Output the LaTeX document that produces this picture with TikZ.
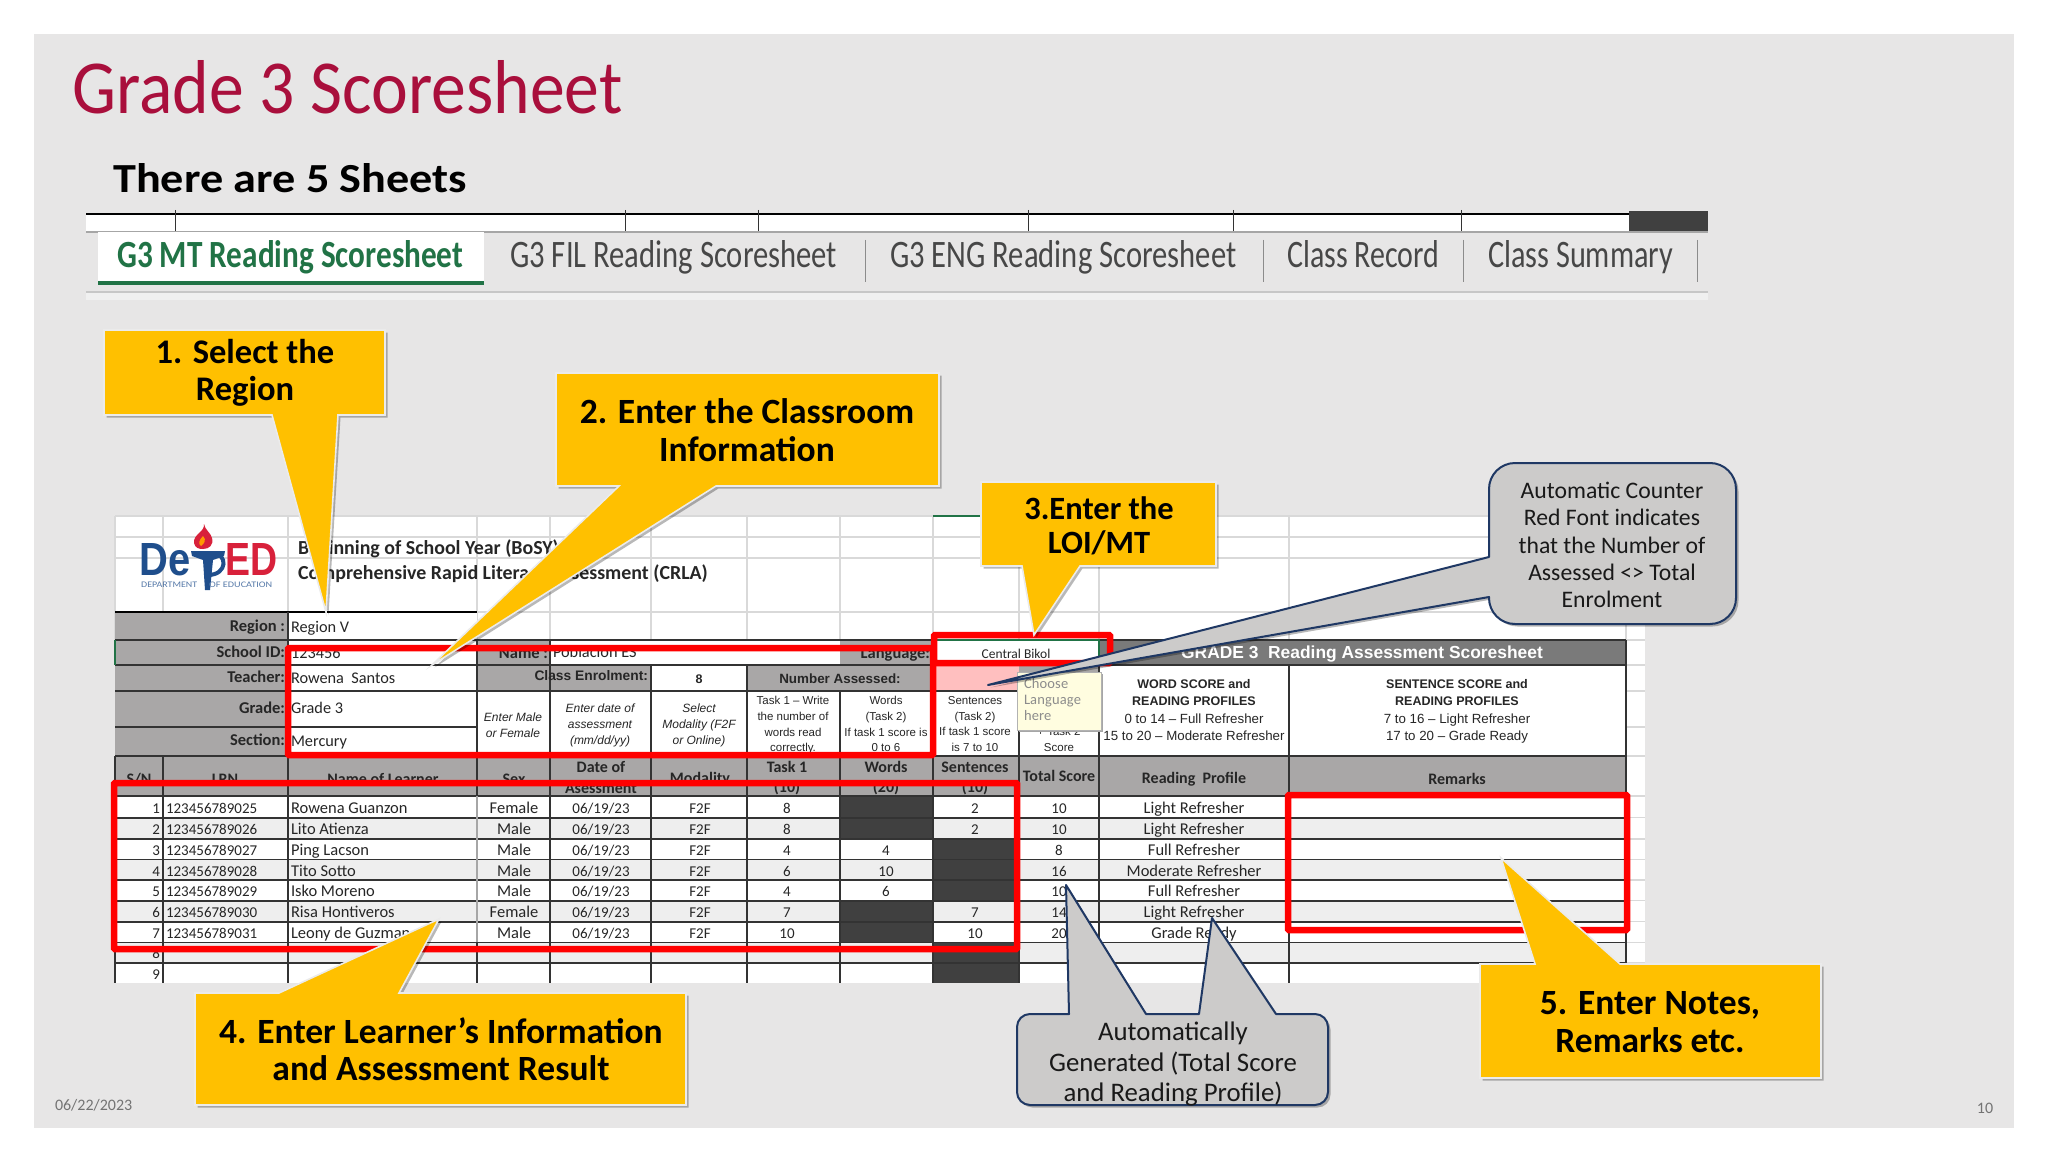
\documentclass[tikz,border=0pt]{standalone}
\usepackage{fontspec}
\usepackage{graphicx}
\setmainfont{Carlito}
\newfontfamily\ar{Liberation Sans}
\usetikzlibrary{shadows}
\definecolor{slide}{HTML}{E7E6E6}
\definecolor{hdr}{HTML}{A9A7A7}
\definecolor{darkc}{HTML}{404040}
\definecolor{zebra}{HTML}{EEEEEE}
\definecolor{gridl}{HTML}{D9D9D9}
\definecolor{gold}{HTML}{FFC000}
\definecolor{callg}{HTML}{CCCBCA}
\definecolor{navy}{HTML}{1F3864}
\definecolor{crimson}{HTML}{A90F3C}
\definecolor{tabgreen}{HTML}{217346}
\definecolor{depblue}{HTML}{1F4E8C}
\definecolor{depred}{HTML}{D8213B}
\newcommand\fs[2]{\fontsize{#1}{#2}\selectfont}
\tikzset{
  x=1pt,y=-1pt,
  txt/.style={inner sep=0pt,outer sep=0pt,align=center,text=black!85},
  lbl/.style={txt,anchor=mid east,yshift=-2.5pt,font=\fs{16.5}{18}\bfseries},
  val/.style={txt,anchor=mid west,yshift=-2.5pt,font=\fs{16.3}{18}},
  dat/.style={txt,anchor=base,font=\fs{16.5}{18}},
  num/.style={txt,anchor=base,font=\fs{15}{18}},
  hd/.style={txt,font=\fs{16}{18}\bfseries},
  note/.style={txt,font=\ar\fs{11.5}{15.6}},
  notei/.style={txt,font=\ar\itshape\fs{12}{16.2}},
  gridline/.style={draw=gridl,line width=1.2pt},
  cellline/.style={draw=black!80,line width=1.6pt},
  redbox/.style={draw=red,line width=6.5pt,rounded corners=1pt},
  goldcall/.style={fill=gold,draw=white!92!black,line width=1.6pt,line join=miter,
    drop shadow={shadow xshift=2.5pt,shadow yshift=-2.5pt,opacity=.28,fill=black}},
  greycall/.style={fill=callg,draw=navy,line width=2pt,line join=round,
    drop shadow={shadow xshift=2.5pt,shadow yshift=-2.5pt,opacity=.28,fill=black}},
  goldtext/.style={inner sep=0pt,align=center,text=black,font=\bfseries\fs{35.5}{37.5}},
  greytext/.style={inner sep=0pt,align=center,text=black!90,font=\fs{23.7}{27.3}},
  tabtext/.style={inner sep=0pt,anchor=base west,text=black!72},
}
\begin{document}
\begin{tikzpicture}
\useasboundingbox (0,0) rectangle (2048,1161);
\fill[white] (0,0) rectangle (2048,1161);
\fill[slide] (34,34) rectangle (2014,1128);

% title
\node[inner sep=0pt,anchor=base west,text=crimson] (title) at (72,114) {\resizebox{550pt}{53pt}{Grade 3 Scoresheet}};
\node[inner sep=0pt,anchor=base west,text=black] (sub) at (113,193) {\resizebox{354pt}{29pt}{\bfseries There are 5 Sheets}};

% tab strip
\fill[white] (86,214) rectangle (1708,232);
\fill[darkc] (1629,211) rectangle (1708,232);
\draw[black,line width=2.6pt] (86,214) -- (1629,214);
\foreach \x in {175,625,758,1028,1233,1461} \draw[black!80,line width=1pt] (\x,210) -- (\x,232);
\draw[black!35,line width=2pt] (86,232) -- (1708,232);
\fill[white] (98,232) rectangle (484,285);
\fill[tabgreen] (98,281) rectangle (484,285);
\foreach \x in {865,1263,1463,1697} \draw[black!45,line width=1pt] (\x,240) -- (\x,282);
\draw[black!22,line width=2pt] (86,292) -- (1708,292);
\fill[black!6] (86,293) rectangle (1708,300);
\node[tabtext,text=tabgreen] (tab1) at (117,267) {\resizebox{346pt}{27pt}{\bfseries G3 MT Reading Scoresheet}};
\node[tabtext] (tab2) at (510,267) {\resizebox{327pt}{27pt}{G3 FIL Reading Scoresheet}};
\node[tabtext] (tab3) at (890,267) {\resizebox{346pt}{27pt}{G3 ENG Reading Scoresheet}};
\node[tabtext] (tab4) at (1287,267) {\resizebox{152pt}{27pt}{Class Record}};
\node[tabtext] (tab5) at (1488,267) {\resizebox{185pt}{27pt}{Class Summary}};

% sheet base and grid
\fill[white] (115,516) rectangle (1645,983);
\foreach \y in {537,558,612,640,665,691,727,756,796,817.7,839,859.3,880,900.7,921.7,942.3,962.7}
  \draw[gridline] (115,\y) -- (1645,\y);
\foreach \x in {163,288,477,550,651,747,840,933,1019,1099,1289,1626}
  \draw[gridline] (\x,516) -- (\x,640);
\draw[gridline] (115,516) -- (1645,516);
\draw[gridline] (115,516) -- (115,640);
\draw[tabgreen,line width=1.4pt] (933,516) -- (981,516);

% logo
\node[inner sep=0pt,anchor=base west,text=depblue] (logoa) at (139,575) {\resizebox{51pt}{32pt}{\ar\bfseries De}};
\node[inner sep=0pt,anchor=base west,text=depred] (logob) at (225,575) {\resizebox{52pt}{32pt}{\ar\bfseries ED}};
\fill[depblue] (191,551) -- (225,551) -- (224,556) -- (213,560) -- (210,590) -- (205,590) -- (203,560) -- (192,556) -- cycle;
\draw[depblue,line width=4pt] (212,553) .. controls (228,553) and (228,575) .. (208,575);
\fill[depred] (204,524) .. controls (205,532) and (193,534) .. (194,543) .. controls (195,548) and (199,549) .. (203,549)
  .. controls (209,549) and (214,545) .. (212,538) .. controls (211,533) and (205,530) .. (204,524) -- cycle;
\fill[gold!80!red] (203,536) .. controls (199,540) and (198,544) .. (201,546) .. controls (204,544) and (207,540) .. (203,536) -- cycle;
\node[inner sep=0pt,text=depblue!75,anchor=mid west] (logoc) at (141,585) {\resizebox{56pt}{5.5pt}{\rmfamily DEPARTMENT}};
\node[inner sep=0pt,text=depblue!75,anchor=mid west] (logod) at (209,585) {\resizebox{63pt}{5.5pt}{\rmfamily OF EDUCATION}};

\node[txt,anchor=mid west,font=\bfseries\fs{19.9}{22}] (boy) at (298,552.5) {Beginning of School Year (BoSY)};
\node[txt,anchor=mid west,font=\bfseries\fs{19.9}{22}] (crla) at (298,577.5) {Comprehensive Rapid Literacy Assessment (CRLA)};

% top form fills
\fill[hdr] (115,612) rectangle (288,756);
\fill[white] (288,612) rectangle (477,756);
\fill[hdr] (477,640) rectangle (550,665);
\fill[white] (550,640) rectangle (840,665);
\fill[hdr] (840,640) rectangle (933,665);
\fill[white] (933,640) rectangle (1099,665);
\fill[black!52] (1099,640) rectangle (1626,665);
\fill[hdr] (477,665) rectangle (651,691);
\fill[white] (651,665) rectangle (747,691);
\fill[hdr] (747,665) rectangle (933,691);
\fill[red!25!white] (933,665) rectangle (1019,691);
\fill[hdr] (1019,665) rectangle (1099,691);
\fill[white] (477,691) rectangle (1099,756);
\fill[white] (1099,665) rectangle (1626,756);
\fill[hdr] (115,756) rectangle (1626,796);

% data rows
\fill[white] (115,796) rectangle (1626,983);
\fill[zebra] (115,817.7) rectangle (1626,839);
\fill[zebra] (115,859.3) rectangle (1626,880);
\fill[zebra] (115,900.7) rectangle (1626,921.7);
\fill[zebra] (115,942.3) rectangle (1626,962.7);
\fill[darkc] (840,796) rectangle (933,839);
\fill[darkc] (840,900.7) rectangle (933,942.3);
\fill[darkc] (933,839) rectangle (1019,900.7);
\fill[darkc] (933,942.3) rectangle (1019,983);

% form lines
\draw[black,line width=2.6pt] (115,612) -- (477,612);
\draw[cellline] (115,640) -- (1626,640);
\draw[cellline] (115,665) -- (1626,665);
\draw[cellline] (115,691) -- (1099,691);
\draw[cellline] (115,727) -- (477,727);
\draw[cellline] (115,756) -- (1626,756);
\draw[cellline] (288,612) -- (288,756);
\foreach \x/\a in {477/640,550/640,651/665,747/665,840/691,933/640,1019/691,1099/640,1289/665,1626/640}
  \draw[cellline] (\x,\a) -- (\x,756);
\draw[tabgreen,line width=1.4pt] (933,640) rectangle (1099,665);
\draw[tabgreen,line width=1.4pt] (115,640) -- (115,665);

% data grid lines
\foreach \y in {796,817.7,839,859.3,880,900.7,921.7,942.3,962.7}
  \draw[cellline] (115,\y) -- (1626,\y);
\foreach \x in {163,288,550,651,747,840,933,1019,1099,1289,1626}
  \draw[cellline] (\x,756) -- (\x,983);
\draw[black!35,line width=1.4pt] (477,796) -- (477,942);
\draw[cellline] (477,756) -- (477,796);
\draw[cellline] (477,942) -- (477,983);
\draw[cellline] (115,756) -- (115,983);

% form text
\node[lbl] (r1) at (285,627) {Region :};
\node[lbl] (r2) at (285,653) {School ID:};
\node[lbl] (r3) at (285,678) {Teacher:};
\node[lbl] (r4) at (285,709) {Grade:};
\node[lbl] (r5) at (285,741) {Section:};
\node[val] (v1) at (291,628) {Region V};
\node[val] (v2) at (291,654) {123456};
\node[val] (v3) at (291,679) {Rowena\ \ Santos};
\node[val] (v4) at (291,709) {Grade 3};
\node[val] (v5) at (291,742) {Mercury};
\node[lbl] (n1) at (548,654) {Name :};
\node[val] (n2) at (553,653) {Población ES};
\node[lbl] (n3) at (930,654) {Language:};
\node[txt,font=\fs{13.5}{16}] (n4) at (1016,654) {Central Bikol};
\node[txt,text=white,font=\ar\bfseries\fs{17.4}{18}] (gr) at (1362,654) {GRADE 3\ \ Reading Assessment Scoresheet};
\node[lbl,font=\ar\bfseries\fs{13.8}{15}] (c1) at (648,676) {Class Enrolment:};
\node[hd,font=\ar\bfseries\fs{12.5}{15}] (c2) at (699,679) {8};
\node[hd,font=\ar\bfseries\fs{13.4}{15}] (c3) at (840,679) {Number Assessed:};

\node[notei] (i1) at (513,725.5) {Enter Male\\or Female};
\node[notei] (i2) at (600,725.5) {Enter date of\\assessment\\(mm/dd/yy)};
\node[notei] (i3) at (699,725.5) {Select\\Modality (F2F\\or Online)};
\node[note,anchor=north] (t1) at (793,696.5) {Task 1 – Write\\the number of\\words read\\correctly.};
\node[note,anchor=north] (t2) at (886,696.5) {Words\\(Task 2)\\If task 1 score is\\0 to 6};
\node[note,anchor=north] (t3) at (975,696.5) {Sentences\\(Task 2)\\If task 1 score\\is 7 to 10};
\node[note,anchor=north] (t4) at (1059,727.5) {+ Task 2\\Score};

\node[txt,anchor=north,font=\ar\fs{13.3}{17.3}] (w1) at (1194,679.5) {\fs{12.5}{17.3}\textbf{WORD SCORE and}\\\fs{12.5}{17.3}\textbf{READING PROFILES}\\0 to 14 – Full Refresher\\15 to 20 – Moderate Refresher};
\node[txt,anchor=north,font=\ar\fs{13.3}{17.3}] (w2) at (1457,679.5) {\fs{12.5}{17.3}\textbf{SENTENCE SCORE and}\\\fs{12.5}{17.3}\textbf{READING PROFILES}\\7 to 16 – Light Refresher\\17 to 20 – Grade Ready};

% header text
\foreach \x/\t/\n in {139/S\slash N/a,225/LRN/b,383/Name of Learner/c,514/Sex/d,700/Modality/e,1194/Reading\ \ Profile/f,1457/Remarks/g}
  \node[hd] (h\n) at (\x,779) {\t};
\node[hd] (hh1) at (601,767) {Date of};
\node[hd] (hh2) at (601,788) {Asessment};
\node[hd] (hh3) at (787,767) {Task 1};
\node[hd] (hh4) at (787,788) {(10)};
\node[hd] (hh5) at (886,767) {Words};
\node[hd] (hh6) at (886,788) {(20)};
\node[hd] (hh7) at (975,767) {Sentences};
\node[hd] (hh8) at (975,788) {(10)};
\node[hd] (hh9) at (1059,776) {Total Score};

% data rows text
\foreach \y/\s/\lrn/\name/\sex/\ta/\tb/\tc/\tot/\prof in {
 807/1/123456789025/Rowena Guanzon/Female/8//2/10/Light Refresher,
 828/2/123456789026/Lito Atienza/Male/8//2/10/Light Refresher,
 849/3/123456789027/Ping Lacson/Male/4/4//8/Full Refresher,
 870/4/123456789028/Tito Sotto/Male/6/10//16/Moderate Refresher,
 890.5/5/123456789029/Isko Moreno/Male/4/6//10/Full Refresher,
 911.5/6/123456789030/Risa Hontiveros/Female/7//7/14/Light Refresher,
 932/7/123456789031/Leony de Guzman/Male/10//10/20/Grade Ready}{
  \node[num,anchor=base east] (s\s) at (160,\y+6) {\s};
  \node[num,anchor=base west] (l\s) at (166,\y+6) {\lrn};
  \node[dat,anchor=base west] (m\s) at (291,\y+6) {\name};
  \node[dat] (x\s) at (514,\y+6) {\sex};
  \node[num] (d\s) at (601,\y+6) {06/19/23};
  \node[num] (f\s) at (700,\y+6) {F2F};
  \node[num] (ta\s) at (787,\y+6) {\ta};
  \node[num] (tb\s) at (886,\y+6) {\tb};
  \node[num] (tc\s) at (975,\y+6) {\tc};
  \node[num] (to\s) at (1059,\y+6) {\tot};
  \node[dat] (p\s) at (1194,\y+6) {\prof};
}
\node[num,anchor=base east] (s8) at (160,958) {8};
\node[num,anchor=base east] (s9) at (160,979) {9};

% tooltip
\fill[black!35] (1019,674) rectangle (1103,732);
\draw[black!30,fill=yellow!12!white,line width=1pt] (1017,672) rectangle (1101,730);
\node[txt,anchor=north west,text=black!45,font=\fs{14.5}{16.4}\addfontfeatures{LetterSpace=1},align=left] (tip) at (1024,678) {Choose\\Language\\here};

% red boxes
\draw[redbox] (288,648) rectangle (933,755);
\draw[redbox] (934,635) rectangle (1110,663);
\draw[redbox] (114,783) rectangle (1017,949);
\draw[redbox] (1288,795) rectangle (1627,930);

% gold callouts
\path[goldcall] (104,330) -- (385,330) -- (385,415) -- (338,415) -- (326,612) -- (272,415) -- (104,415) -- cycle;
\node[goldtext,font=\bfseries\fs{34.5}{37.5}] (c1t) at (245,373) {1. Select the\\Region};
\path[goldcall] (556,373) -- (939,373) -- (939,486) -- (716,486) -- (432,665) -- (619,486) -- (556,486) -- cycle;
\node[goldtext] (c2t) at (747,430) {2. Enter the Classroom\\Information};
\path[goldcall] (981,482) -- (1216,482) -- (1216,566) -- (1080,566) -- (1034,635) -- (1022,566) -- (981,566) -- cycle;
\node[goldtext,font=\bfseries\fs{32.5}{34.5}] (c3t) at (1099,526) {3.Enter the\\LOI/MT};
\path[goldcall] (195,993) -- (279,993) -- (439,919) -- (399,993) -- (686,993) -- (686,1105) -- (195,1105) -- cycle;
\node[goldtext] (c4t) at (441,1049) {4. Enter Learner’s Information\\and Assessment Result};
\path[goldcall] (1480,964) -- (1535,964) -- (1501,858) -- (1620,964) -- (1821,964) -- (1821,1078) -- (1480,1078) -- cycle;
\node[goldtext] (c5t) at (1650,1022) {5. Enter Notes,\\Remarks etc.};

% grey callouts
\path[greycall] (1489,557) -- (988,685) -- (1489,597) [rounded corners=26pt] -- (1489,624) -- (1736,624) -- (1736,463) -- (1489,463) [sharp corners] -- cycle;
\node[greytext] (c6t) at (1612,545) {Automatic Counter\\Red Font indicates\\that the Number of\\Assessed <> Total\\Enrolment};
\path[greycall] (1069,1014) -- (1066,885) -- (1146,1014) -- (1199,1014) -- (1212,918) -- (1276,1014) [rounded corners=13pt] -- (1328,1014) -- (1328,1105) -- (1017,1105) -- (1017,1014) [sharp corners] -- cycle;
\node[greytext,font=\fs{26.8}{30.5}] (c7t) at (1173,1064) {Automatically\\Generated (Total Score\\and Reading Profile)};

% footer
\node[txt,text=black!55,font=\fs{16}{18},anchor=mid west] (date) at (55,1108.5) {06/22/2023};
\node[txt,text=black!55,font=\fs{16}{18}] (page) at (1985,1108) {10};
\end{tikzpicture}
\end{document}
